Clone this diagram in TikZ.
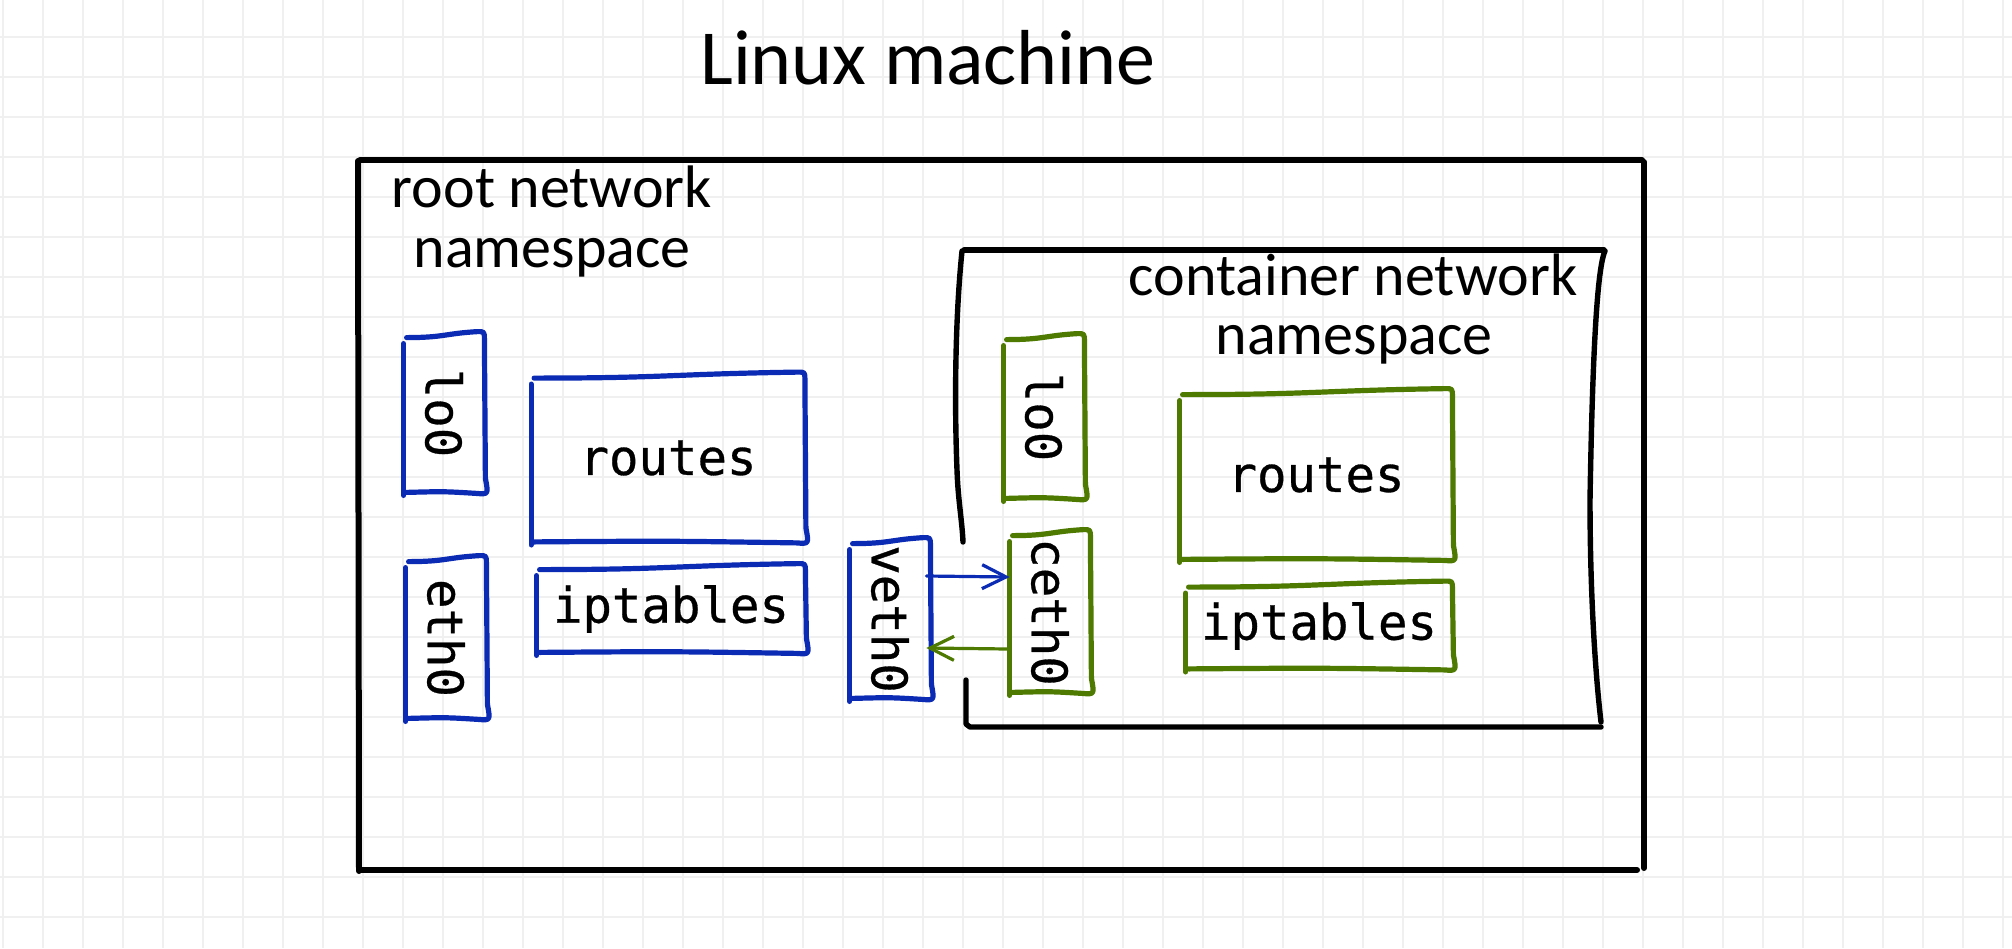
\documentclass[tikz,border=0pt]{standalone}
\usepackage{fontspec}
\usepackage{graphicx}
\usetikzlibrary{calc,arrows.meta}
\newfontfamily\handfont{Carlito}
\newfontfamily\monofont{DejaVu Sans Mono}[FakeBold=0.6]
\definecolor{skblue}{HTML}{0B2BB4}
\definecolor{skgreen}{HTML}{4E7A02}
\definecolor{gridc}{HTML}{F0F0F0}
\tikzset{
  sk/.style={line width=2.6pt, line cap=round, line join=round},
  frameline/.style={line width=3pt, line cap=round, line join=round, black},
  cframe/.style={line width=2.7pt, line cap=round, line join=round, black},
  ifbox/.style={inner sep=0pt, font=\monofont\fontsize{24.5pt}{24.5pt}\selectfont},
  hand/.style={font=\handfont\fontsize{30pt}{30pt}\selectfont, inner sep=0pt, anchor=base},
  conn/.style={line width=1.6pt, line cap=round, -{Straight Barb[length=12pt,width=12pt]}},
}
\newcommand\skbox[2]{%
  \draw[sk,#2] ($(#1.north west)+(3,4)$) .. controls ($(#1.north)+(0,4)$) and ($(#1.north)+(0,0)$) .. ($(#1.north east)+(-7,-2)$) .. controls ($(#1.north east)+(0,-2)$) .. ($(#1.north east)+(0,6)$) -- ($(#1.south east)+(1,-14)$) .. controls ($(#1.south east)+(4,2)$) .. ($(#1.south east)+(-8,1)$) .. controls ($(#1.south)+(0,-1)$) .. ($(#1.south west)+(3,0)$);
  \draw[sk,#2] ($(#1.north west)+(0,10)$) -- ($(#1.south west)+(0,3)$);
}
\begin{document}
\begin{tikzpicture}[x=0.5pt,y=-0.5pt]
\useasboundingbox (0,0) rectangle (2012,948);
\fill[white] (0,0) rectangle (2012,948);
\foreach \gx in {3,43,...,2003} \draw[gridc, line width=1pt] (\gx,0) -- (\gx,948);
\foreach \gy in {37,77,...,917} \draw[gridc, line width=1pt] (0,\gy) -- (2012,\gy);

% title
\node[hand, font=\handfont\fontsize{39pt}{39pt}\selectfont] (title) at (928,84) {Linux machine};

% outer machine frame
\draw[frameline] (360,160) -- (1642,160);
\draw[frameline] (1644,162) -- (1644,868);
\draw[frameline] (361,870) -- (1637,870);
\draw[frameline] (358,161) -- (359,871);

% container frame
\draw[cframe] (964,250) -- (1604,250);
\draw[cframe] (962,251) .. controls (954,330) and (955,420) .. (957,470) .. controls (958,500) and (962,520) .. (963,542);
\draw[cframe] (966,680) -- (966,724) -- (970,727) -- (1601,727);
\draw[cframe] (1605,251) .. controls (1596,270) and (1592,380) .. (1590,500) .. controls (1590,600) and (1596,680) .. (1601,722);

% labels
\node[hand] (rootA) at (552,207) {root network};
\node[hand] (rootB) at (552,267) {namespace};
\node[hand] (contA) at (1353,295) {container network};
\node[hand] (contB) at (1354,354) {namespace};

% root namespace boxes
\node[ifbox, minimum width=40pt, minimum height=79pt] (rlo) at (444,413) {\rotatebox{-90}{lo0}};
\node[ifbox, minimum width=40pt, minimum height=80pt] (reth) at (446,638) {\rotatebox{-90}{eth0}};
\node[ifbox, minimum width=136.5pt, minimum height=83.5pt] (rroutes) at (668,458) {routes};
\node[ifbox, minimum width=134pt, minimum height=43pt] (ript) at (671,609) {iptables};
\node[ifbox, minimum width=40pt, minimum height=79pt] (veth) at (890,619) {\rotatebox{-90}{veth0}};
\skbox{rlo}{skblue}
\skbox{reth}{skblue}
\skbox{rroutes}{skblue}
\skbox{ript}{skblue}
\skbox{veth}{skblue}

% container namespace boxes
\node[ifbox, minimum width=40pt, minimum height=81pt] (clo) at (1044,417) {\rotatebox{-90}{lo0}};
\node[ifbox, minimum width=40pt, minimum height=80pt] (ceth) at (1050,612) {\rotatebox{-90}{ceth0}};
\node[ifbox, minimum width=136pt, minimum height=84pt] (croutes) at (1316,475) {routes};
\node[ifbox, minimum width=133pt, minimum height=42.5pt] (cipt) at (1319,626) {iptables};
\skbox{clo}{skgreen}
\skbox{ceth}{skgreen}
\skbox{croutes}{skgreen}
\skbox{cipt}{skgreen}

% veth pair connectors
\draw[conn, skblue] ([xshift=-2pt,yshift=21.5pt]veth.east) -- ([yshift=17.5pt]ceth.west);
\draw[conn, skgreen] ([xshift=-1pt,yshift=-18.5pt]ceth.west) -- ([xshift=-2pt,yshift=-14.5pt]veth.east);
\end{tikzpicture}
\end{document}
